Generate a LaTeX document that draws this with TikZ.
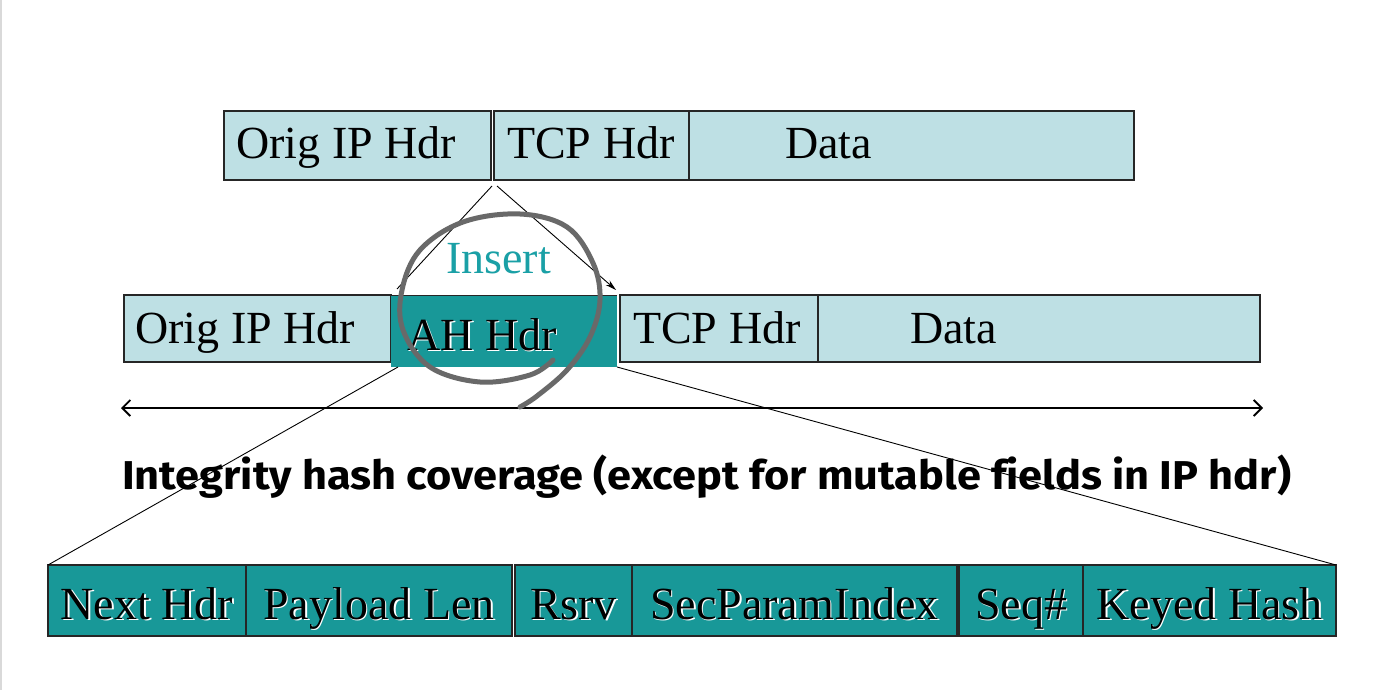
\documentclass[tikz,border=0pt]{standalone}
\usepackage{fontspec}
\setmainfont{Liberation Serif}
\newfontfamily\capfont[Ligatures=NoCommon]{Fira Sans}
\usetikzlibrary{arrows.meta}
\definecolor{lightc}{RGB}{190,224,228}
\definecolor{darkc}{RGB}{24,152,152}
\definecolor{insc}{RGB}{26,160,166}
\definecolor{loopc}{RGB}{105,105,105}
\newcommand\shtx[1]{\makebox[0pt][l]{\hspace{1.6pt}\raisebox{-1.6pt}{\color{white}#1}}#1}
\begin{document}
\begin{tikzpicture}[x=1pt,y=-1pt,
  cellbox/.style={draw=black!85, line width=1.3pt, anchor=north west, inner sep=0pt, outer sep=0pt},
  light/.style={cellbox, fill=lightc},
  dark/.style={cellbox, fill=darkc},
  lbl/.style={inner sep=0pt, font=\fontsize{46}{50}\selectfont},
  thin/.style={draw=black, line width=0.9pt}]
\useasboundingbox (0,0) rectangle (1374,690);
\fill[white] (0,0) rectangle (1374,690);
\draw[black!15, line width=1.5pt] (1,0) -- (1,690);
% top row
\node[light, minimum width=267pt, minimum height=69pt] (tip) at (224,111) {};
\node[light, minimum width=195pt, minimum height=69pt] (ttcp) at (494,111) {};
\node[light, minimum width=445pt, minimum height=69pt] (tdata) at (689,111) {};
\node[lbl, anchor=base west] (tipL) at (236,159) {Orig IP Hdr};
\node[lbl, anchor=base west] (ttcpL) at (507,159) {TCP Hdr};
\node[lbl, anchor=base west] (tdataL) at (785,159) {Data};
% middle row
\node[light, minimum width=267pt, minimum height=67pt] (mip) at (124,295) {};
\node[cellbox, draw=none, fill=darkc, minimum width=226pt, minimum height=72pt] (ah) at (391,295) {};
\draw[black!85, line width=1pt] (ah.north west) -- (ah.north east);
\node[light, minimum width=198pt, minimum height=67pt] (mtcp) at (620,295) {};
\node[light, minimum width=442pt, minimum height=67pt] (mdata) at (818,295) {};
\node[lbl, anchor=base west] (mipL) at (135,343) {Orig IP Hdr};
\node[lbl, anchor=base west] (ahL) at (407,350) {\shtx{AH Hdr}};
\node[lbl, anchor=base west] (mtcpL) at (633,343) {TCP Hdr};
\node[lbl, anchor=base west] (mdataL) at (910,343) {Data};
\node[lbl, anchor=base, text=insc] (ins) at (498.5,273) {Insert};
% insert lines
\coordinate (spL) at (492,186);
\coordinate (spR) at (497,186);
\coordinate (inL) at (397,289);
\coordinate (inR) at (616,290);
\draw[thin] (spL) -- (inL);
\draw[thin, -{Stealth[length=11pt,width=6pt]}] (spR) -- (inR);
% coverage arrow
\coordinate (arL) at (121,408);
\coordinate (arR) at (1263,408);
\draw[black, line width=1.8pt, {Straight Barb[length=8pt,width=16pt]}-{Straight Barb[length=8pt,width=16pt]}] (arL) -- (arR);
\node[inner sep=0pt, anchor=base west] (cov) at (122,489)
  {\resizebox{1169pt}{1.15\height}{\capfont\bfseries\fontsize{35}{40}\selectfont Integrity hash coverage (except for mutable fields in IP hdr)}};
% bottom row
\node[dark, minimum width=198pt, minimum height=71pt] (bnh) at (48,565) {};
\node[dark, minimum width=266pt, minimum height=71pt] (bpl) at (246,565) {};
\node[dark, minimum width=117pt, minimum height=71pt] (brs) at (515,565) {};
\node[dark, minimum width=325pt, minimum height=71pt] (bspi) at (632,565) {};
\node[dark, minimum width=124pt, minimum height=71pt] (bseq) at (959,565) {};
\node[dark, minimum width=253pt, minimum height=71pt] (bkh) at (1083,565) {};
\node[lbl, anchor=base] (bnhL) at (147,619) {\shtx{Next Hdr}};
\node[lbl, anchor=base] (bplL) at (379,619) {\shtx{Payload Len}};
\node[lbl, anchor=base] (brsL) at (573.5,619) {\shtx{Rsrv}};
\node[lbl, anchor=base] (bspiL) at (794.5,619) {\shtx{SecParamIndex}};
\node[lbl, anchor=base] (bseqL) at (1021,619) {\shtx{Seq\#}};
\node[lbl, anchor=base] (bkhL) at (1209.5,619) {\shtx{Keyed Hash}};
% zoom lines
\draw[thin] ([xshift=7pt]ah.south west) -- (bnh.north west);
\draw[thin] (ah.south east) -- (bkh.north east);
% hand-drawn loop
\draw[loopc, line width=5pt, line cap=round, line join=round]
  plot[smooth, tension=0.6] coordinates {(553,360) (530,375) (480,382) (430,367) (403,330) (402,290) (420,250) (463,222) (520,214) (567,227) (593,263) (600,300) (590,337) (567,370) (537,396) (520,407)};
\end{tikzpicture}
\end{document}
